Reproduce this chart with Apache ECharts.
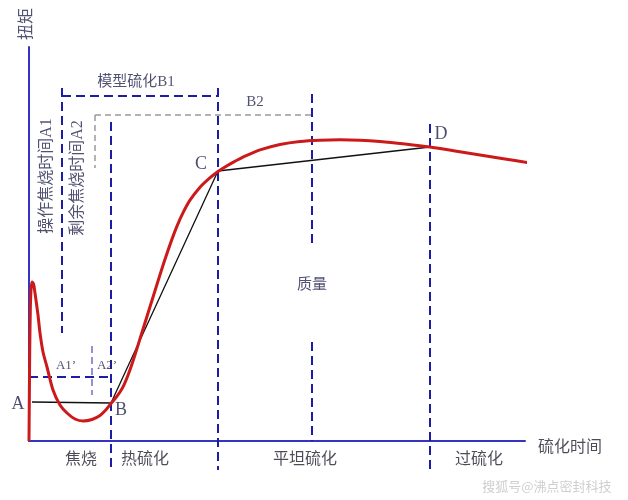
<!DOCTYPE html>
<html><head><meta charset="utf-8">
<script src="https://cdn.jsdelivr.net/npm/echarts@6/dist/echarts.min.js"></script>
<style>html,body{margin:0;padding:0;background:#fff}#c{width:628px;height:500px}</style>
</head><body><div id="c"></div>
<script>
// torque curve (time, torque) in chart units
const torqueCurve = [
  [0,0],[0.08,10.25],[0.18,22.75],[0.33,32.75],[0.5,37.75],[0.75,39.75],[1.13,39.25],[1.5,37],
  [2.25,31.5],[2.75,27],[3.5,22.25],[4.5,18.5],[6,12.75],[7.75,9],[9.5,7],[11.5,5.5],[13.5,5],
  [15.75,5.38],[17.75,6.38],[19.25,7.8],[20.5,9.38],[21.75,10.88],[22.75,12.25],[23.75,14.05],
  [24.75,16.45],[25.75,19.25],[26.75,22.35],[27.75,25.55],[29,29.55],[30.25,33.55],[31.5,37.55],
  [32.75,41.55],[34,45.43],[35.68,50.28],[37,53.73],[38.58,57.2],[40.25,60.2],[42.75,63.45],
  [45,65.6],[47.25,67.38],[49,68.5],[51,69.65],[54,71.2],[57.75,72.78],[62.75,74.13],[67.75,74.88],
  [72.75,75.2],[77.75,75.3],[82.75,75.2],[87.75,74.88],[94,74.25],[100.25,73.5],
  [106.5,72.5],[112.75,71.5],[119,70.5],[125.25,69.5]
];
// chord A-B-C-D
const torqueChord = [[0.75,9.75],[20.5,9.5],[47.25,67.5],[100.25,73.5]];
// dashed guide segments
const blueDashSegments = [
  [[8.25,88.25],[8.25,27]],
  [[20.5,79.75],[20.5,-7.25]],
  [[47.25,88.25],[47.25,-7.25]],
  [[70.75,86.75],[70.75,49]],
  [[70.75,24.75],[70.75,0]],
  [[100.25,79.25],[100.25,-7.25]],
  [[8.25,86.25],[47.25,86.25]],
  [[0,16],[20.5,16]]
];
const thinDashSegments = [
  [[15.75,23.75],[15.75,11.5]]
];
const grayDashSegments = [
  [[16.5,81.5],[70.75,81.5]],
  [[16.5,81.5],[16.5,68.25]]
];
// text annotations [x, y, text]
const pointLabels = [[-2.75,9.25,'A'],[23,7.75,'B'],[43,69.25,'C'],[103,76.75,'D']];
const bracketLabels = [[26.75,89.75,'模型硫化B1'],[56.5,84.75,'B2'],[70.75,39,'质量']];
const primeLabels = [[9.25,18.75,'A1’'],[19.5,18.75,'A2’']];
const verticalLabels = [[4.5,66.25,'操作焦烧时间A1'],[12.25,65.75,'剩余焦烧时间A2'],[-0.5,104.25,'扭矩']];
const stageLabels = [[13,-4.75,'焦烧'],[29,-4.75,'热硫化'],[69,-4.75,'平坦硫化'],[112.5,-4.75,'过硫化'],[135.25,-1.75,'硫化时间']];

const FONT = "'Liberation Serif','Noto Sans CJK SC',serif";
const chart = echarts.init(document.getElementById('c'), null, {renderer:'canvas'});
const series = [];
function seg(data, color, width, type){
  series.push({type:'line', data:data, symbol:'none', clip:false, silent:true, animation:false,
    lineStyle:{color:color, width:width, type:type}, z:2});
}
blueDashSegments.forEach(s => seg(s, '#1c1ca6', 2, [9,5]));
thinDashSegments.forEach(s => seg(s, '#4a4ab8', 1.2, [7,4]));
grayDashSegments.forEach(s => seg(s, '#9a9a9a', 1.5, [6,4]));
series.push({type:'line', data:torqueCurve, symbol:'none', smooth:0.25, clip:false, silent:true, animation:false,
  lineStyle:{color:'#cc1a1a', width:3}, z:4});
series.push({type:'line', data:torqueChord, symbol:'none', clip:false, silent:true, animation:false,
  lineStyle:{color:'#111111', width:1.3}, z:3});
function textSeries(list, size, color, rotate){
  series.push({type:'scatter', clip:false, silent:true, animation:false, symbolSize:1,
    itemStyle:{color:'rgba(0,0,0,0)'}, z:6,
    data:list.map(d => ({value:[d[0],d[1]], name:d[2]})),
    label:{show:true, position:'inside', formatter:'{b}', rotate:rotate||0, fontSize:size, color:color,
      fontFamily:FONT, align:'center', verticalAlign:'middle'}});
}
textSeries(pointLabels, 18, '#1e1e4c');
textSeries(bracketLabels, 15, '#26264f');
textSeries(primeLabels, 13, '#26264f');
textSeries(verticalLabels, 16, '#26264f', 90);
textSeries(stageLabels, 16, '#1f1f30');

chart.setOption({
  backgroundColor:'#ffffff',
  animation:false,
  grid:{left:29, top:47, width:496, height:394},
  xAxis:{type:'value', min:0, max:124, axisLine:{lineStyle:{color:'#3434c0', width:2}},
    axisTick:{show:false}, axisLabel:{show:false}, splitLine:{show:false}},
  yAxis:{type:'value', min:0, max:98.5, axisLine:{show:true, lineStyle:{color:'#3434c0', width:2}},
    axisTick:{show:false}, axisLabel:{show:false}, splitLine:{show:false}},
  graphic:[{type:'text', right:16, bottom:7, style:{text:'搜狐号@沸点密封科技', fill:'#cfcfcf',
    stroke:'#ffffff', lineWidth:1, font:"13px 'Noto Sans CJK SC'"}}],
  series:series
});
</script></body></html>
